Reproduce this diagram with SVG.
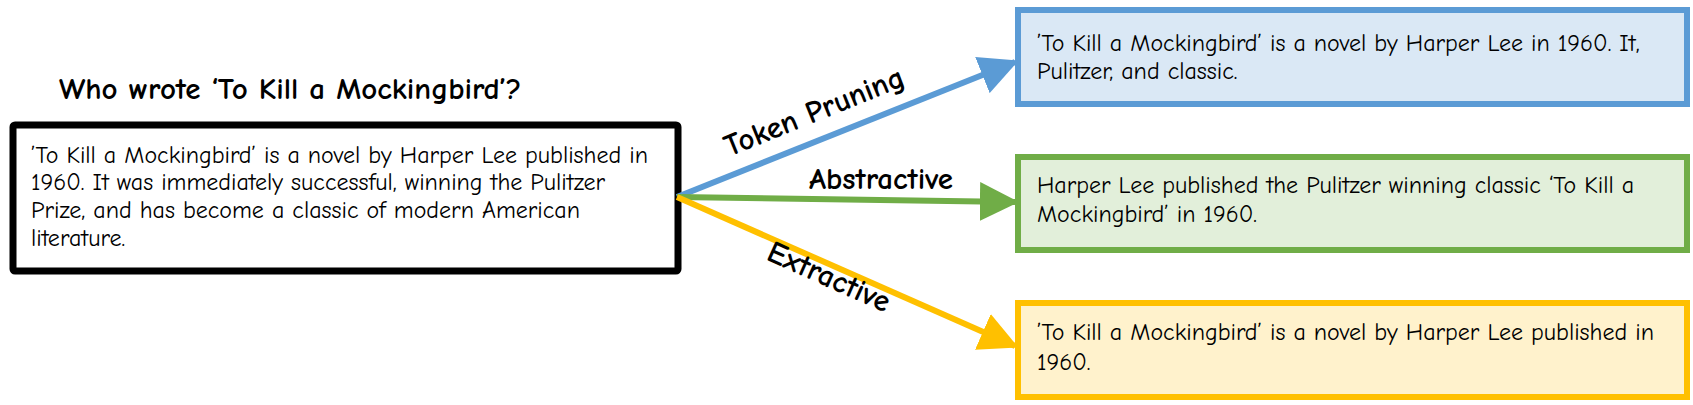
<svg xmlns="http://www.w3.org/2000/svg" width="1693" height="405" viewBox="0 0 1693 405">
<style>
text{font-family:"Comic Neue","Liberation Sans",sans-serif;fill:#000}
.b{font-size:24px}
.l{font-size:31px;font-weight:bold}
.c{fill:none;stroke-width:6}
</style>
<defs>
<marker id="ab" viewBox="0 0 10 10" refX="9" refY="5" markerWidth="6.5" markerHeight="6.5" orient="auto" markerUnits="strokeWidth"><path d="M0,0L10,5L0,10z" fill="#5B9BD5"/></marker>
<marker id="ag" viewBox="0 0 10 10" refX="9" refY="5" markerWidth="6.5" markerHeight="6.5" orient="auto" markerUnits="strokeWidth"><path d="M0,0L10,5L0,10z" fill="#70AD47"/></marker>
<marker id="ay" viewBox="0 0 10 10" refX="9" refY="5" markerWidth="6.5" markerHeight="6.5" orient="auto" markerUnits="strokeWidth"><path d="M0,0L10,5L0,10z" fill="#FFC000"/></marker>
</defs>
<g id="question"><text x="59" y="99" style="font-size:31px;font-weight:bold">Who wrote ‘To Kill a Mockingbird’?</text></g>
<g id="source">
<rect x="13" y="125" width="665" height="146" fill="#fff" stroke="#000" stroke-width="7" rx="2"/>
<text class="b" x="31" y="163">’To Kill a Mockingbird’ is a novel by Harper Lee published in</text>
<text class="b" x="31" y="190">1960. It was immediately successful, winning the Pulitzer</text>
<text class="b" x="31" y="218">Prize, and has become a classic of modern American</text>
<text class="b" x="31" y="246">literature.</text>
</g>
<g id="connectors">
<line class="c" x1="677" y1="197" x2="1015" y2="62" stroke="#5B9BD5" marker-end="url(#ab)"/>
<line class="c" x1="677" y1="197" x2="1015" y2="202" stroke="#70AD47" marker-end="url(#ag)"/>
<line class="c" x1="677" y1="197" x2="1015" y2="346" stroke="#FFC000" marker-end="url(#ay)"/>
<text class="l" text-anchor="middle" transform="translate(818,121) rotate(-22)">Token Pruning</text>
<text class="l" text-anchor="middle" x="881" y="189">Abstractive</text>
<text class="l" text-anchor="middle" transform="translate(825,286) rotate(24)">Extractive</text>
</g>
<g id="token-pruning">
<rect x="1018" y="10" width="669" height="94" fill="#DAE8F5" stroke="#5B9BD5" stroke-width="6"/>
<text class="b" x="1037" y="51">’To Kill a Mockingbird’ is a novel by Harper Lee in 1960. It,</text>
<text class="b" x="1037" y="79">Pulitzer, and classic.</text>
</g>
<g id="abstractive">
<rect x="1018" y="157" width="669" height="93" fill="#E2EFDA" stroke="#70AD47" stroke-width="6"/>
<text class="b" x="1037" y="193">Harper Lee published the Pulitzer winning classic ‘To Kill a</text>
<text class="b" x="1037" y="222">Mockingbird’ in 1960.</text>
</g>
<g id="extractive">
<rect x="1018" y="303" width="669" height="94" fill="#FFF2CC" stroke="#FFC000" stroke-width="6"/>
<text class="b" x="1037" y="340">’To Kill a Mockingbird’ is a novel by Harper Lee published in</text>
<text class="b" x="1037" y="370">1960.</text>
</g>
</svg>
